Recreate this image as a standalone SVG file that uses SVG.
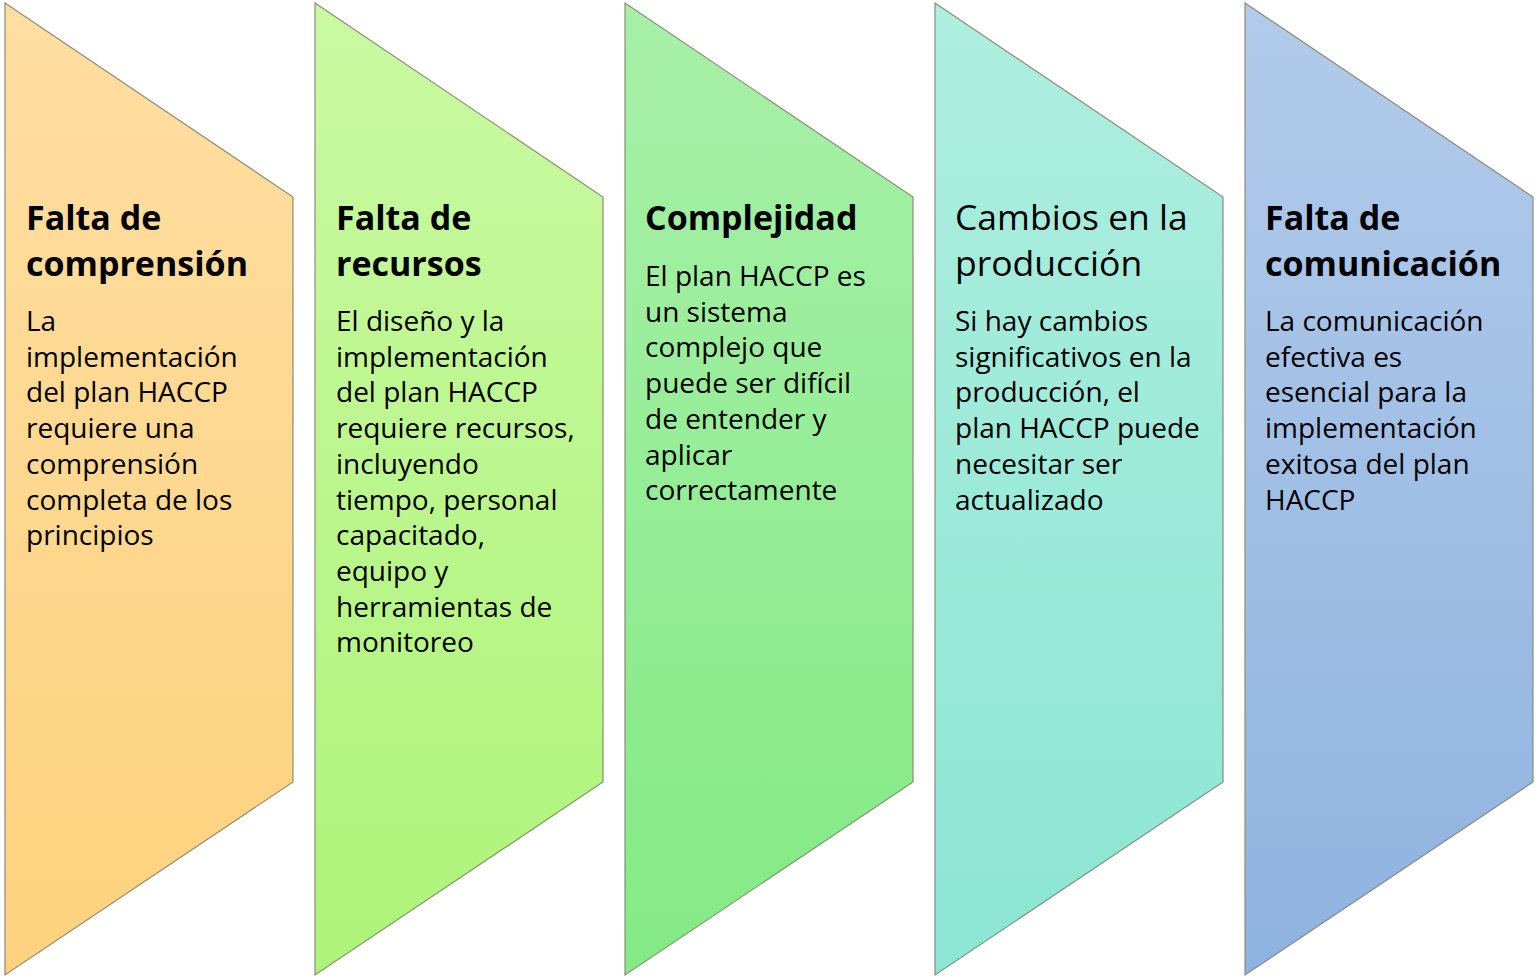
<svg xmlns="http://www.w3.org/2000/svg" width="1536" height="980" viewBox="0 0 1536 980">
<defs>
<linearGradient id="g1" x1="0" y1="0" x2="0" y2="1"><stop offset="0" stop-color="#FEDEA2"/><stop offset="1" stop-color="#FED27D"/></linearGradient>
<linearGradient id="g2" x1="0" y1="0" x2="0" y2="1"><stop offset="0" stop-color="#CAF9A2"/><stop offset="1" stop-color="#ADF479"/></linearGradient>
<linearGradient id="g3" x1="0" y1="0" x2="0" y2="1"><stop offset="0" stop-color="#A8F0A8"/><stop offset="1" stop-color="#83EA85"/></linearGradient>
<linearGradient id="g4" x1="0" y1="0" x2="0" y2="1"><stop offset="0" stop-color="#AEEEDF"/><stop offset="1" stop-color="#8BE6D3"/></linearGradient>
<linearGradient id="g5" x1="0" y1="0" x2="0" y2="1"><stop offset="0" stop-color="#B2CBEA"/><stop offset="1" stop-color="#8FB3E0"/></linearGradient>
</defs>
<style>
.shape{stroke:#8C8C7A;stroke-width:1.2}
.t{font-family:"Open Sans","Noto Sans",sans-serif;font-size:35.5px;fill:#000}
.b{font-weight:bold;font-size:34px}
.d{font-family:"Open Sans","Noto Sans",sans-serif;font-size:28px;fill:#000}
</style>
<rect width="1536" height="980" fill="#FFFFFF"/>
<g id="node1">
<path class="shape" fill="url(#g1)" d="M5,3 L293,197 L293,782 L5,975 Z"/>
<text class="t b" x="26" y="230">Falta de</text>
<text class="t b" x="26" y="276">comprensión</text>
<text class="d" x="26" y="331">La</text>
<text class="d" x="26" y="366.7">implementación</text>
<text class="d" x="26" y="402.4">del plan HACCP</text>
<text class="d" x="26" y="438.1">requiere una</text>
<text class="d" x="26" y="473.8">comprensión</text>
<text class="d" x="26" y="509.5">completa de los</text>
<text class="d" x="26" y="545.2">principios</text>
</g>
<g id="node2">
<path class="shape" fill="url(#g2)" d="M315,3 L603,197 L603,782 L315,975 Z"/>
<text class="t b" x="336" y="230">Falta de</text>
<text class="t b" x="336" y="276">recursos</text>
<text class="d" x="336" y="331">El diseño y la</text>
<text class="d" x="336" y="366.7">implementación</text>
<text class="d" x="336" y="402.4">del plan HACCP</text>
<text class="d" x="336" y="438.1">requiere recursos,</text>
<text class="d" x="336" y="473.8">incluyendo</text>
<text class="d" x="336" y="509.5">tiempo, personal</text>
<text class="d" x="336" y="545.2">capacitado,</text>
<text class="d" x="336" y="580.9">equipo y</text>
<text class="d" x="336" y="616.6">herramientas de</text>
<text class="d" x="336" y="652.3">monitoreo</text>
</g>
<g id="node3">
<path class="shape" fill="url(#g3)" d="M625,3 L913,197 L913,782 L625,975 Z"/>
<text class="t b" x="645" y="230">Complejidad</text>
<text class="d" x="645" y="286">El plan HACCP es</text>
<text class="d" x="645" y="321.7">un sistema</text>
<text class="d" x="645" y="357.4">complejo que</text>
<text class="d" x="645" y="393.1">puede ser difícil</text>
<text class="d" x="645" y="428.8">de entender y</text>
<text class="d" x="645" y="464.5">aplicar</text>
<text class="d" x="645" y="500.2">correctamente</text>
</g>
<g id="node4">
<path class="shape" fill="url(#g4)" d="M935,3 L1223,197 L1223,782 L935,975 Z"/>
<text class="t" x="955" y="230">Cambios en la</text>
<text class="t" x="955" y="276">producción</text>
<text class="d" x="955" y="331">Si hay cambios</text>
<text class="d" x="955" y="366.7">significativos en la</text>
<text class="d" x="955" y="402.4">producción, el</text>
<text class="d" x="955" y="438.1">plan HACCP puede</text>
<text class="d" x="955" y="473.8">necesitar ser</text>
<text class="d" x="955" y="509.5">actualizado</text>
</g>
<g id="node5">
<path class="shape" fill="url(#g5)" d="M1245,3 L1533,197 L1533,782 L1245,975 Z"/>
<text class="t b" x="1265" y="230">Falta de</text>
<text class="t b" x="1265" y="276">comunicación</text>
<text class="d" x="1265" y="331">La comunicación</text>
<text class="d" x="1265" y="366.7">efectiva es</text>
<text class="d" x="1265" y="402.4">esencial para la</text>
<text class="d" x="1265" y="438.1">implementación</text>
<text class="d" x="1265" y="473.8">exitosa del plan</text>
<text class="d" x="1265" y="509.5">HACCP</text>
</g>
<g id="connectors"/>
</svg>
